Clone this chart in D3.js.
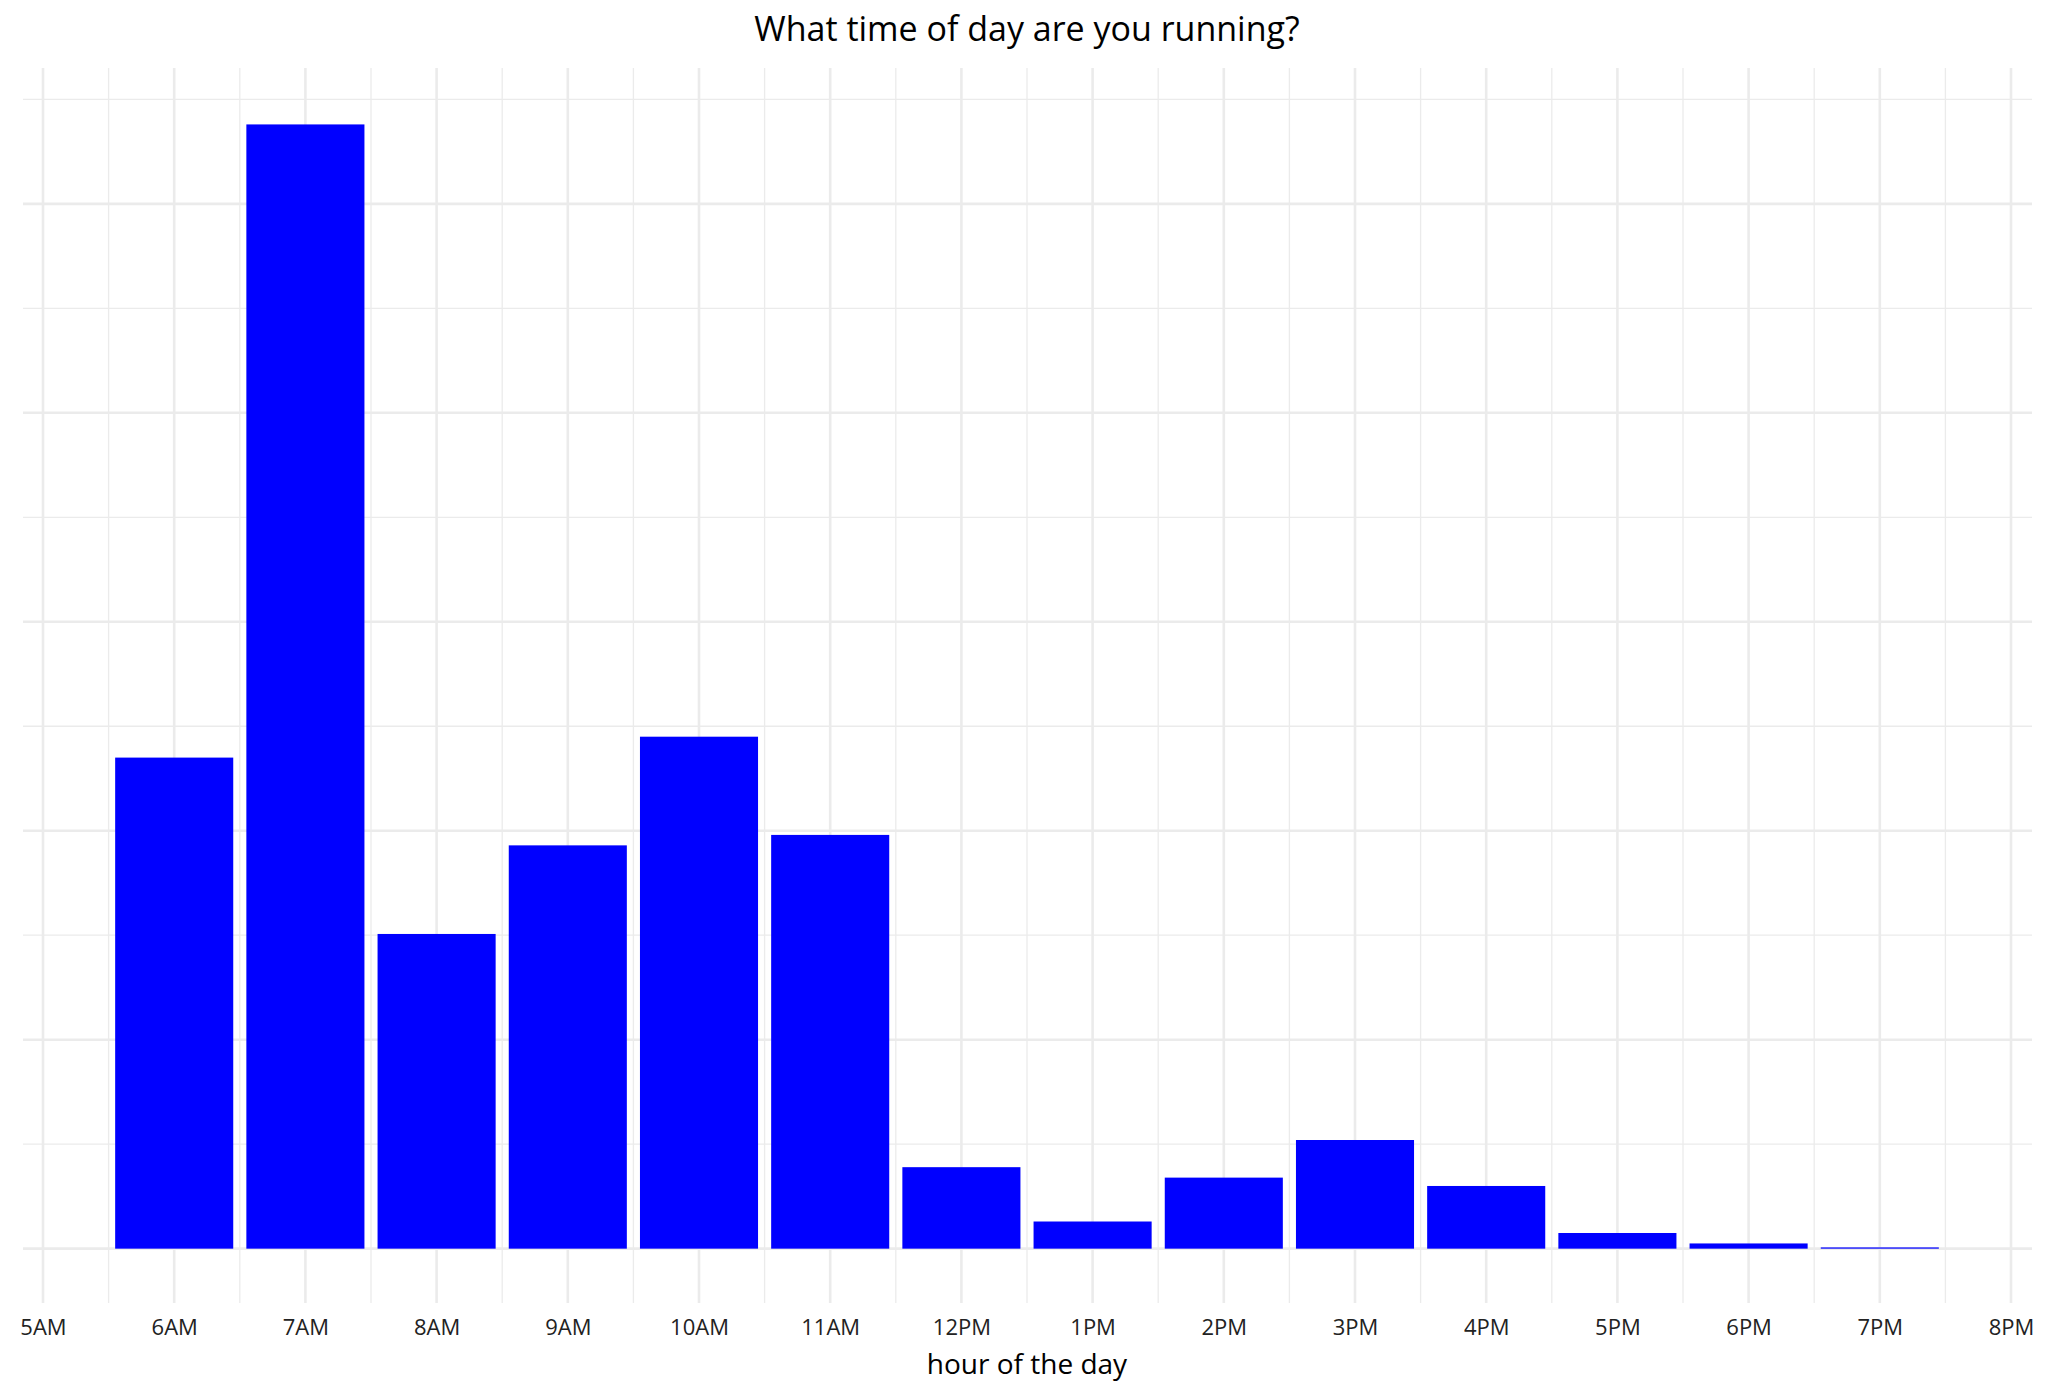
<!DOCTYPE html>
<html><head><meta charset="utf-8">
<script src="https://cdn.jsdelivr.net/npm/d3@7"></script>
<style>body{margin:0;background:#fff;font-family:"Open Sans",sans-serif}</style>
</head><body><svg></svg>
<script>
const hours = [6,7,8,9,10,11,12,13,14,15,16,17,18,19];
const counts = [2.35,5.38,1.506,1.93,2.45,1.98,0.39,0.13,0.34,0.52,0.30,0.075,0.025,0.006];
const tickLabels = ["5AM","6AM","7AM","8AM","9AM","10AM","11AM","12PM","1PM","2PM","3PM","4PM","5PM","6PM","7PM","8PM"];

const width = 2048, height = 1398;
const svg = d3.select("svg").attr("width", width).attr("height", height);

const x = d3.scaleLinear().domain([5, 20]).range([43, 2011]);
const y = d3.scaleLinear().domain([-0.26, 5.65]).range([1303, 68]);
const left = 23, right = 2032;

const g = svg.append("g");
// horizontal grid
d3.range(-0.5, 5.6, 0.5).filter(v => v >= -0.26).forEach(v => {
  g.append("line").attr("x1", left).attr("x2", right).attr("y1", y(v)).attr("y2", y(v))
    .attr("stroke", "#ebebeb").attr("stroke-width", v % 1 === 0 ? 2.6 : 1.3);
});
// vertical grid
d3.range(5, 20.01, 0.5).forEach(v => {
  g.append("line").attr("y1", y.range()[0]).attr("y2", y.range()[1]).attr("x1", x(v)).attr("x2", x(v))
    .attr("stroke", "#ebebeb").attr("stroke-width", v % 1 === 0 ? 2.6 : 1.3);
});

svg.selectAll("rect.bar").data(hours).enter().append("rect")
  .attr("class", "bar")
  .attr("x", (d) => x(d - 0.45))
  .attr("width", x(0.9) - x(0))
  .attr("y", (d, i) => y(counts[i]))
  .attr("height", (d, i) => y(0) - y(counts[i]))
  .attr("fill", "#0000ff");

const xAxis = d3.axisBottom(x).tickValues(d3.range(5, 21)).tickSize(0)
  .tickFormat((d, i) => tickLabels[i]);
svg.append("g").attr("transform", "translate(0,1316)").call(xAxis)
  .call(a => a.select(".domain").remove())
  .selectAll("text").attr("font-size", 22).attr("fill", "#222").attr("font-family", "Open Sans");

svg.append("text").attr("x", (x(5) + x(20)) / 2).attr("y", 1374).attr("text-anchor", "middle")
  .attr("font-size", 28).attr("fill", "#000").text("hour of the day");
svg.append("text").attr("x", (x(5) + x(20)) / 2).attr("y", 41).attr("text-anchor", "middle")
  .attr("font-size", 34).attr("fill", "#000").text("What time of day are you running?");
</script></body></html>
